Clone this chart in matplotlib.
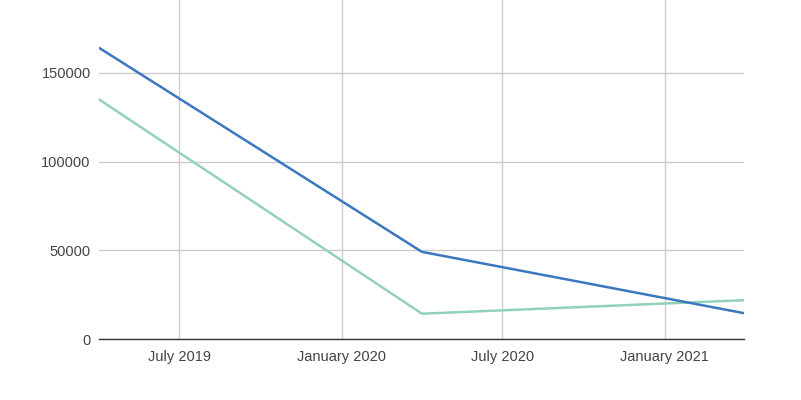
import matplotlib
matplotlib.use("Agg")
import matplotlib.pyplot as plt
import matplotlib.dates as mdates
import numpy as np
import datetime as dt

dates = [dt.date(2019, 4, 1), dt.date(2020, 4, 1), dt.date(2021, 4, 1)]
series_blue = [164000, 49200, 14700]
series_green = [135000, 14400, 22000]
x_ticks = [dt.date(2019, 7, 1), dt.date(2020, 1, 1), dt.date(2020, 7, 1), dt.date(2021, 1, 1)]
x_tick_labels = ["July 2019", "January 2020", "July 2020", "January 2021"]
y_ticks = [0, 50000, 100000, 150000]

plt.rcParams['font.family'] = ['Liberation Sans', 'DejaVu Sans']

fig = plt.figure(figsize=(8.01, 4.0), dpi=100)
ax = fig.add_axes([99/801, (400-339.3)/400, (744-99)/801, 339.3/400])

ax.plot(dates, series_green, color="#94d2b8", lw=1.8, solid_joinstyle='round', zorder=3)
ax.plot(dates, series_blue, color="#3b78c0", lw=1.8, solid_joinstyle='round', zorder=4)

ax.set_xlim(dates[0], dates[-1])
ax.set_ylim(0, 190900)
ax.set_xticks(x_ticks)
ax.set_xticklabels(x_tick_labels)
ax.set_yticks(y_ticks)
ax.set_yticklabels([str(v) for v in y_ticks])

ax.grid(True, color="#cccccc", lw=1.0, zorder=0)
ax.set_axisbelow(True)
for s in ['top', 'right', 'left']:
    ax.spines[s].set_visible(False)
ax.spines['bottom'].set_color("#333333")
ax.spines['bottom'].set_linewidth(1.0)
ax.spines['bottom'].set_zorder(5)
ax.tick_params(axis='both', length=0, labelsize=10.5, colors="#444444")
ax.tick_params(axis='x', pad=7.5)
ax.tick_params(axis='y', pad=6)

fig.savefig("out.png", dpi=100)
